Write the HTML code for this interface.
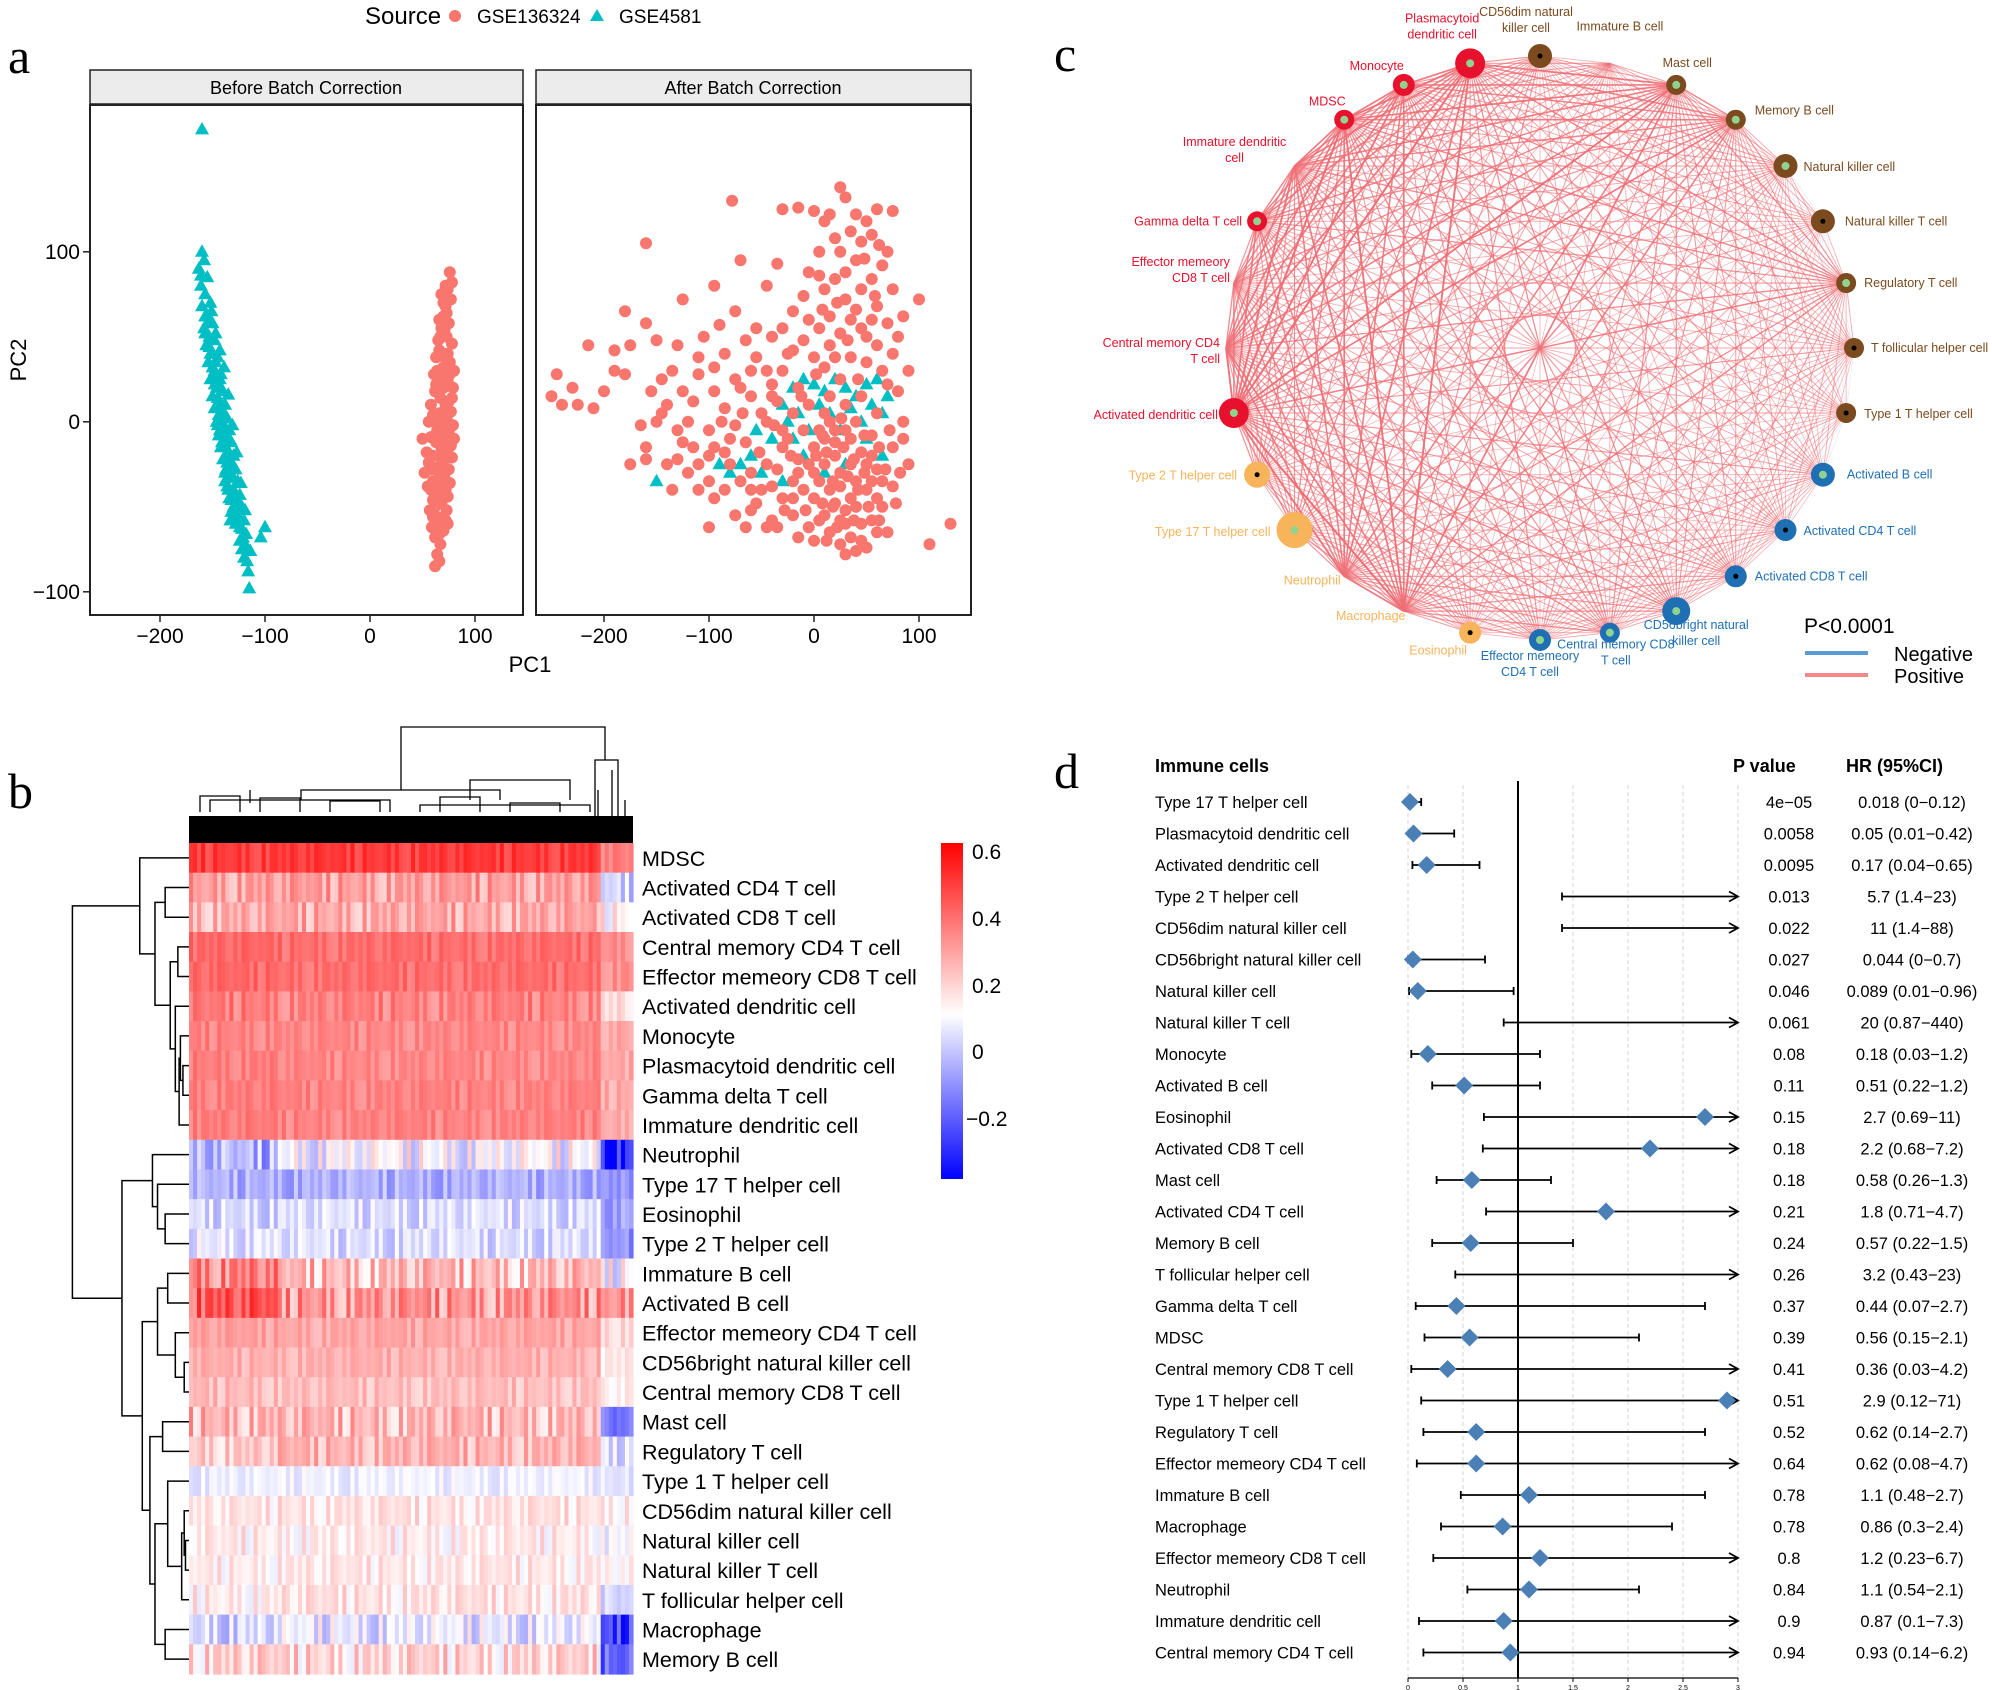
<!DOCTYPE html>
<html><head><meta charset="utf-8"><style>
html,body{margin:0;padding:0;background:#fff}
svg{display:block;font-family:"Liberation Sans",Arial,sans-serif}
.nar{font-family:"Liberation Sans Narrow","Liberation Sans",sans-serif}
.pl{font-family:"Liberation Serif",serif;font-size:50px}
</style></head><body>
<svg id="fig" width="1992" height="1690" viewBox="0 0 1992 1690" xmlns="http://www.w3.org/2000/svg">
<rect width="1992" height="1690" fill="#fff"/>
<text class="pl" x="8" y="73">a</text>
<text class="pl" x="8" y="808">b</text>
<text class="pl" x="1054" y="71">c</text>
<text class="pl" x="1054" y="788">d</text>

<g id="pa">
 <g class="nar" font-size="22">
  <text x="365" y="24" font-size="24">Source</text>
  <circle cx="455" cy="16" r="6" fill="#F8766D"/>
  <text x="477" y="23" font-size="19">GSE136324</text>
  <polygon points="597,9 604,21 590,21" fill="#00BFC4"/>
  <text x="619" y="23" font-size="19">GSE4581</text>
 </g>
 <rect x="90" y="70" width="433" height="34" fill="#ececec" stroke="#222" stroke-width="1.5"/>
 <text x="306" y="94" text-anchor="middle" font-size="18" class="nar">Before Batch Correction</text>
 <rect x="536" y="70" width="435" height="34" fill="#ececec" stroke="#222" stroke-width="1.5"/>
 <text x="753" y="94" text-anchor="middle" font-size="18" class="nar">After Batch Correction</text>
 <g id="scatL"></g>
 <g id="scatR"></g>
 <rect x="90" y="105" width="433" height="510" fill="none" stroke="#222" stroke-width="2"/>
 <rect x="536" y="105" width="435" height="510" fill="none" stroke="#222" stroke-width="2"/>
 <g id="axA" class="nar" font-size="21"></g>
 <text x="530" y="672" text-anchor="middle" font-size="22">PC1</text>
 <text transform="translate(26,360) rotate(-90)" text-anchor="middle" font-size="22">PC2</text>
</g>

<g id="pb">
 <g id="hm"></g>
 <g id="rden" stroke="#000" stroke-width="1.5" fill="none"></g>
 <g id="cden" stroke="#000" stroke-width="1.3" fill="none"></g>
 <g id="hml" font-size="21.5"></g>
 <defs><linearGradient id="cb" x1="0" y1="0" x2="0" y2="1">
  <stop offset="0" stop-color="#ff0000"/><stop offset="0.51" stop-color="#ffffff"/><stop offset="1" stop-color="#0000ff"/></linearGradient></defs>
 <rect x="941" y="843" width="22" height="336" fill="url(#cb)"/>
 <g font-size="21">
  <text x="972" y="859">0.6</text><text x="972" y="926">0.4</text><text x="972" y="993">0.2</text><text x="972" y="1059">0</text><text x="966" y="1126">−0.2</text>
 </g>
</g>

<g id="pc">
 <g id="edges"></g>
 <g id="nodes"></g>
 <g id="nlab" font-size="12.5"></g>
 <g>
  <text x="1804" y="633" font-size="21">P&lt;0.0001</text>
  <line x1="1805" y1="653" x2="1868" y2="653" stroke="#5b9bd5" stroke-width="4"/>
  <text x="1894" y="661" font-size="20">Negative</text>
  <line x1="1805" y1="675" x2="1868" y2="675" stroke="#f4878a" stroke-width="4"/>
  <text x="1894" y="683" font-size="20">Positive</text>
 </g>
</g>

<g id="pd">
 <text x="1155" y="772" font-size="18" font-weight="bold">Immune cells</text>
 <text x="1733" y="772" font-size="18" font-weight="bold">P value</text>
 <text x="1846" y="772" font-size="18" font-weight="bold">HR (95%CI)</text>
 <g id="fgrid"></g>
 <g id="frows"></g>
</g>
</svg>
<script>
const NS="http://www.w3.org/2000/svg";
function mk(t,a,p){const e=document.createElementNS(NS,t);for(const k in a)e.setAttribute(k,a[k]);p.appendChild(e);return e;}

/* ---------- Panel a data ---------- */
const beforeGSE4581=[[-160,100],[-158,95],[-163,90],[-155,85],[-161,80],[-157,75],[-152,70],[-160,68],[-155,62],[-150,58],[-158,55],[-153,50],[-148,48],[-156,45],[-150,40],[-145,38],[-154,35],[-148,30],[-142,28],[-152,25],[-146,20],[-140,18],[-150,15],[-144,12],[-138,10],[-148,8],[-142,5],[-136,2],[-146,0],[-140,-3],[-134,-5],[-144,-8],[-138,-10],[-132,-12],[-142,-15],[-136,-18],[-130,-20],[-140,-22],[-134,-25],[-128,-28],[-138,-30],[-132,-33],[-126,-35],[-136,-38],[-130,-40],[-124,-43],[-134,-45],[-128,-48],[-122,-50],[-132,-53],[-126,-55],[-120,-58],[-128,-60],[-122,-63],[-118,-66],[-124,-70],[-118,-73],[-114,-76],[-120,-80],[-116,-88],[-115,-98],[-100,-62],[-104,-68],[-160,172],[-142,20],[-145,-2],[-137,-28],[-130,-50],[-151,65],[-147,52],[-143,42],[-139,32],[-135,16],[-131,-2],[-127,-18],[-123,-36],[-119,-52],[-150,32],[-146,10],[-141,-12],[-135,-40],
[-157,62],[-153,44],[-149,26],[-145,14],[-141,0],[-137,-15],[-133,-30],[-129,-42],[-125,-58],[-121,-68],[-152,40],[-148,22],[-144,4],[-140,-8],[-136,-24],[-132,-46],[-128,-54],[-124,-62],[-143,25],[-139,5],[-135,-10],[-131,-25],[-127,-45],[-157,52],[-161,86],[-154,58],[-147,35],[-143,-5],[-138,-35],[-133,-58],[-117,-82],[-122,-75]];
const beforeGSE136324=[[76,88],[78,82],[74,78],[77,72],[72,68],[70,62],[75,58],[68,55],[73,50],[78,46],[66,42],[71,38],[76,35],[64,30],[69,27],[74,24],[79,20],[62,18],[67,14],[72,10],[77,6],[60,4],[65,0],[70,-3],[75,-6],[58,-9],[63,-12],[68,-15],[73,-18],[78,-21],[56,-24],[61,-27],[66,-30],[71,-33],[76,-36],[58,-40],[63,-44],[68,-48],[73,-52],[60,-56],[65,-60],[70,-64],[62,-68],[67,-72],[64,-78],[62,-85],[50,-10],[52,-30],[80,30],[80,-10],[70,20],[66,5],[72,-40],[68,-25],[74,40],[65,48],[70,70],[62,-50],[60,-20],[58,10],[75,12],[64,-5],[70,32],[66,60],[72,-58],[60,-35],
[56,0],[54,-18],[55,-38],[57,-52],[59,-62],[61,28],[63,38],[67,50],[71,54],[73,64],[76,28],[78,14],[79,-2],[77,-14],[75,-28],[74,-44],[70,-56],[66,-66],[64,-56],[60,-46],[58,-28],[62,-8],[66,18],[70,40],[73,2],[69,-10],[65,-20],[63,22],[67,-38],[71,-22],[74,-60],[69,-44],[72,80],[68,75],[66,-82]];
const afterGSE4581=[[-20,20],[-10,25],[0,22],[10,18],[20,25],[30,20],[40,15],[50,22],[60,25],[-30,10],[-25,0],[-15,5],[-5,-5],[5,10],[15,5],[25,-5],[35,8],[45,0],[55,10],[65,5],[-40,-10],[-60,-20],[-70,-25],[-80,-30],[-50,-30],[-30,-35],[-10,-20],[10,-30],[30,-25],[50,-10],[65,-20],[-150,-35],[-90,-25],[-55,-5],[-20,-10],[70,15]];
const afterGSE136324=[[25,138],[30,132],[-78,130],[-30,125],[-15,126],[0,124],[15,122],[40,122],[60,125],[75,124],[10,118],[50,118],[35,112],[55,110],[45,106],[62,104],[70,100],[25,100],[-160,105],[-70,95],[-35,93],[40,95],[65,92],[-5,88],[5,86],[20,84],[55,84],[10,78],[45,78],[75,78],[-125,72],[30,72],[60,68],[100,72],[-180,65],[-75,65],[-20,65],[-5,60],[15,62],[35,60],[55,60],[70,58],[-160,58],[-90,57],[-55,55],[-30,55],[5,55],[25,52],[45,55],[-150,48],[-105,50],[-65,48],[-40,50],[-10,48],[15,45],[60,45],[-215,45],[-190,42],[-175,45],[-85,40],[-55,38],[-25,40],[0,38],[35,38],[75,40],[-190,30],[-135,30],[-95,32],[-60,30],[-30,30],[10,32],[50,35],[90,30],[-245,28],[-180,28],[-145,25],[-110,28],[-75,25],[-40,22],[-15,20],[25,25],[70,22],[-250,15],[-230,20],[-200,18],[-155,18],[-125,18],[-95,18],[-60,15],[-35,12],[-5,10],[45,15],[80,18],[-240,10],[-225,10],[-210,8],[-140,10],[-115,12],[-85,8],[-50,5],[-20,5],[15,0],[60,5],[-165,-2],[-150,0],[-130,-5],[-100,-5],[-75,-2],[-45,0],[-10,-5],[30,-5],[55,-8],[85,0],[-160,-15],[-125,-12],[-95,-15],[-65,-12],[-30,-15],[0,-15],[20,-12],[45,-18],[75,-15],[-140,-25],[-110,-25],[-80,-25],[-45,-25],[-15,-22],[10,-25],[35,-25],[60,-28],[90,-25],[-175,-25],[-160,-22],[-100,-35],[-70,-35],[-40,-38],[-20,-35],[5,-35],[25,-38],[50,-40],[75,-38],[-95,-45],[-55,-48],[-30,-45],[0,-45],[20,-48],[40,-50],[65,-50],[-75,-55],[-40,-58],[-20,-55],[10,-55],[30,-60],[55,-58],[-100,-62],[-65,-62],[-45,-62],[15,-65],[35,-68],[60,-65],[0,-70],[25,-72],[50,-74],[110,-72],[130,-60],[-5,-62],[5,-5],[15,15],[-25,-10],[40,0],[20,-20],[30,10],[10,-10],[25,-30],[40,-35],[15,-40],[35,-45],[50,-25],[0,-30],[-10,-40],[20,-5],[45,-60],[30,-52],[5,-58],[60,-45],[-35,-28],[-60,-40],[-20,-45],[65,-35],[55,-20],[35,-10],[10,5],[-15,-30],[25,-58],[45,-70],[8,-48],[38,-22],[18,-35],
[20,108],[48,96],[30,88],[58,74],[40,66],[22,70],[-10,74],[8,66],[50,50],[32,48],[-20,42],[-45,30],[-70,20],[65,30],[42,25],[-52,-18],[-85,-18],[-115,-15],[-30,-5],[-5,-25],[12,-18],[28,-15],[48,-30],[68,-28],[72,-5],[62,-15],[52,-50],[38,-58],[22,-62],[-8,-52],[-28,-52],[-50,-40],[-60,-52],[-85,-40],[-110,-40],[-130,-22],[-145,5],[-120,0],[-88,0],[-68,5],[-38,-2],[-12,15],[2,28],[20,38],[-35,-62],[12,-70],[40,-76],[62,-58],[78,-48],[82,-30],[85,-10],[70,-65],[30,-78],[-15,-68],[42,-40],[18,-50],[2,-20],[-22,-20],[32,-32],[55,-35],[8,-8],[48,-8],[26,2],[-40,15],[-60,-30],[-80,-10],[-100,-20],[-120,-30],[-135,-40],[80,50],[85,62],[5,100],[-45,80],[-95,80],[-110,38],[-130,45]];
const xTicks=[-200,-100,0,100];
const yTicks=[100,0,-100];
const yS=v=>421.8-v*1.70;
const xL=v=>370+v*1.05, xR=v=>814+v*1.05;

function tri(g,x,y,c){const p=mk('polygon',{points:`${x},${y-7.5} ${x+7},${y+5} ${x-7},${y+5}`,fill:c},g);}
function dot(g,x,y,c){const p=mk('circle',{cx:x,cy:y,r:6,fill:c},g);}
const gL=document.getElementById('scatL'),gR=document.getElementById('scatR');
beforeGSE4581.forEach(d=>tri(gL,xL(d[0]),yS(d[1]),'#00BFC4'));
beforeGSE136324.forEach(d=>dot(gL,xL(d[0]),yS(d[1]),'#F8766D'));
afterGSE4581.forEach(d=>tri(gR,xR(d[0]),yS(d[1]),'#00BFC4'));
afterGSE136324.forEach(d=>dot(gR,xR(d[0]),yS(d[1]),'#F8766D'));
const ax=document.getElementById('axA');
[xL,xR].forEach((f,pi)=>xTicks.forEach(t=>{
 mk('line',{x1:f(t),x2:f(t),y1:615,y2:622,stroke:'#222','stroke-width':1.5},ax);
 const tx=mk('text',{x:f(t),y:643,'text-anchor':'middle'},ax);tx.textContent=t<0?'−'+(-t):t;
 
}));
yTicks.forEach(t=>{
 mk('line',{x1:83,x2:90,y1:yS(t),y2:yS(t),stroke:'#222','stroke-width':1.5},ax);
 const tx=mk('text',{x:80,y:yS(t)+7,'text-anchor':'end'},ax);tx.textContent=t<0?'−'+(-t):t;
 
});

/* ---------- Panel b data ---------- */
const rowNames=["MDSC","Activated CD4 T cell","Activated CD8 T cell","Central memory CD4 T cell","Effector memeory CD8 T cell","Activated dendritic cell","Monocyte","Plasmacytoid dendritic cell","Gamma delta T cell","Immature dendritic cell","Neutrophil","Type 17 T helper cell","Eosinophil","Type 2 T helper cell","Immature  B cell","Activated B cell","Effector memeory CD4 T cell","CD56bright natural killer cell","Central memory CD8 T cell","Mast cell","Regulatory T cell","Type 1 T helper cell","CD56dim natural killer cell","Natural killer cell","Natural killer T cell","T follicular helper cell","Macrophage","Memory B cell"];
const rowLeft=[0.50,0.30,0.27,0.41,0.41,0.37,0.36,0.37,0.37,0.37,-0.04,-0.04,0.04,0.07,0.36,0.44,0.30,0.27,0.25,0.26,0.22,0.08,0.16,0.15,0.15,0.15,0.04,0.20];
const rowBase=[0.50,0.30,0.28,0.40,0.40,0.36,0.35,0.35,0.36,0.36,0.10,-0.04,0.05,0.05,0.24,0.32,0.29,0.27,0.24,0.25,0.26,0.09,0.17,0.15,0.16,0.17,0.07,0.19];
const rowTail=[0.36,0.02,0.14,0.34,0.34,0.18,0.28,0.28,0.28,0.28,-0.30,-0.10,-0.08,-0.10,0.10,0.32,0.20,0.16,0.14,-0.18,0.05,0.06,0.16,0.10,0.13,0.02,-0.26,-0.20];
const rowAmp=[0.06,0.10,0.10,0.05,0.05,0.07,0.05,0.05,0.05,0.05,0.14,0.08,0.09,0.09,0.14,0.14,0.05,0.05,0.06,0.12,0.09,0.05,0.07,0.08,0.07,0.08,0.12,0.12];
const texture=[0.3,-0.8,0.5,0.1,-0.4,0.9,-0.2,0.6,-0.9,0.2,0.7,-0.5,0.0,0.4,-0.7,0.8,-0.1,-0.6,0.5,0.2,-0.3,1.0,-0.8,0.3,0.6,-0.4,-0.1,0.7,-0.9,0.4,0.1,-0.5,0.8,-0.2,0.3,-0.7,0.5];
const NC=110;
const HX0=189,HX1=633,HY0=843,HY1=1674;
function col(v){
 let r,g,b;
 if(v>=0.12){const t=Math.min(1,(v-0.12)/0.5);r=255;g=b=Math.round(255*(1-t));}
 else{const t=Math.min(1,(0.12-v)/0.5);b=255;r=g=Math.round(255*(1-t));}
 return `rgb(${r},${g},${b})`;}
const hm=document.getElementById('hm');
const rh=(HY1-HY0)/rowNames.length,cw=(HX1-HX0)/NC;
rowNames.forEach((n,r)=>{
 for(let c=0;c<NC;c++){
  const f=c/NC;const base=f<0.2?rowLeft[r]:(f>=0.92?rowTail[r]:rowBase[r]);
  const v=base+rowAmp[r]*texture[(c*7+r*5)%texture.length];
  const e=mk('rect',{x:(HX0+c*cw).toFixed(2),y:(HY0+r*rh).toFixed(2),width:(cw+0.6).toFixed(2),height:(rh+0.6).toFixed(2),fill:col(v)},hm);
  
  
 }
 const t=mk('text',{x:642,y:HY0+(r+0.5)*rh+8},document.getElementById('hml'));t.textContent=n;
 
});
const merges=[[1,2,130],[3,4,140],[7,8,144],[6,'n2',142],['n3',9,141],[5,'n4',138],['n1','n5',134],['n0','n6',122],[0,'n7',110],
[12,13,130],[11,'n9',124],[10,'n10',120],[14,15,132],[17,18,145],[16,'n13',138],['n12','n14',124],[19,20,128],[23,24,146],[22,'n17',145],['n18',25,143],[21,'n19',132],[26,27,130],['n20','n21',122],['n16','n22',118],['n15','n23',112],['n11','n24',96],['n8','n25',57]];
const rd=document.getElementById('rden');const pos={};
function np(k){if(typeof k==='number')return{x:HX0,y:HY0+(k+0.5)*rh};return pos[k];}
merges.forEach((m,i)=>{const a=np(m[0]),b=np(m[1]);const x=m[2]*1.2704;
 mk('path',{d:`M${a.x},${a.y}H${x}V${b.y}H${b.x}`},rd);pos['n'+i]={x:x,y:(a.y+b.y)/2};});
const cd=document.getElementById('cden');
mk('rect',{x:HX0,y:816,width:HX1-HX0,height:27,fill:'#000',stroke:'none'},cd);
mk('path',{d:'M401,790V727H605V760M301,800V790H500V800M605,760H595V830M605,760H618V830M210,812V800H390V812M420,812V805H590V812M250,803V790M470,800V780H570V800'},cd);
mk('path',{d:'M200,812V796H240V812M260,812V798H300V812M330,812V801H380V812M440,812V797H480V812M510,812V803H560V812M598,830V790M612,830V770M625,843V800',stroke:'#000'},cd);

/* ---------- Panel c data ---------- */
const nodeNames=["CD56dim natural|killer cell","Immature  B cell","Mast cell","Memory B cell","Natural killer cell","Natural killer T cell","Regulatory T cell","T follicular helper cell","Type 1 T helper cell","Activated B cell","Activated CD4 T cell","Activated CD8 T cell","CD56bright natural|killer cell","Central memory CD8|T cell","Effector memeory|CD4 T cell","Eosinophil","Macrophage","Neutrophil","Type 17 T helper cell","Type 2 T helper cell","Activated dendritic cell","Central memory CD4|T cell","Effector memeory|CD8 T cell","Gamma delta T cell","Immature dendritic|cell","MDSC","Monocyte","Plasmacytoid|dendritic cell"];
const nodeGroup=["b","b","b","b","b","b","b","b","b","u","u","u","u","u","u","o","o","o","o","o","r","r","r","r","r","r","r","r"];
const nodeSize=[12,0,10,10,12,12,10,10,10,12,11,11,14,10,11,11,0,0,18,13,15,0,0,10,0,10,11,15];
const nodeDot=["k","","g","g","g","k","g","k","k","g","k","k","g","g","g","k","","","g","k","g","","","g","","g","g","g"];
const nodeStrength=[0.5,0.45,0.7,0.65,0.45,0.4,0.6,0.45,0.4,0.45,0.45,0.5,0.55,0.55,0.5,0.45,0.75,0.7,0.55,0.5,0.8,0.7,0.6,0.65,0.7,0.75,0.7,0.75];
const gc={b:'#7b4a1e',u:'#1f6fb5',o:'#f7b45a',r:'#e8112d'};
const CX=1540,CY=348,RX=314,RY=292;
const np2=i=>{const a=(-90+i*360/nodeNames.length)*Math.PI/180;return[CX+RX*Math.cos(a),CY+RY*Math.sin(a)];};
const eg=document.getElementById('edges');
for(let i=0;i<nodeNames.length;i++)for(let j=i+1;j<nodeNames.length;j++){
 const a=np2(i),b=np2(j),s=nodeStrength[i]*nodeStrength[j];
 const e=mk('line',{x1:a[0],y1:a[1],x2:b[0],y2:b[1],stroke:s<0.2?'#c5d5e8':'#ef6f76','stroke-width':(0.6+4*s*s).toFixed(2),'stroke-opacity':Math.min(1,0.25+1.3*s).toFixed(2)},eg);
 
 
}
const ng=document.getElementById('nodes'),nl=document.getElementById('nlab');
const labLay=[[-14,-36,'middle'],[10,-37,'middle'],[11,-22,'middle'],[19,-9,'start'],[18,1,'start'],[22,0,'start'],[18,0,'start'],[17,0,'start'],[18,1,'start'],[24,0,'start'],[18,1,'start'],[19,0,'start'],[20,22,'middle'],[6,20,'middle'],[-10,24,'middle'],[-32,18,'middle'],[-33,5,'middle'],[-32,4,'middle'],[-24,2,'end'],[-20,1,'end'],[-16,2,'end'],[-6,3,'end'],[-4,-13,'end'],[-15,0,'end'],[-60,-16,'middle'],[-17,-18,'middle'],[-27,-19,'middle'],[-28,-37,'middle']];
nodeNames.forEach((n,i)=>{
 const p=np2(i);
 if(nodeSize[i]>0){
  const c=mk('circle',{cx:p[0],cy:p[1],r:nodeSize[i],fill:gc[nodeGroup[i]]},ng);
  
  
  mk('circle',{cx:p[0],cy:p[1],r:nodeDot[i]==='g'?4:2.5,fill:nodeDot[i]==='g'?'#8fd38f':'#000'},ng);
 }
 const L=labLay[i];const parts=n.split('|');
 parts.forEach((s,k)=>{const t=mk('text',{x:p[0]+L[0],y:p[1]+L[1]+k*16+(parts.length>1?-4:4),'text-anchor':L[2],fill:gc[nodeGroup[i]]},nl);t.textContent=s;
  });
});

/* ---------- Panel d data ---------- */
const cells=["Type 17 T helper cell","Plasmacytoid dendritic cell","Activated dendritic cell","Type 2 T helper cell","CD56dim natural killer cell","CD56bright natural killer cell","Natural killer cell","Natural killer T cell","Monocyte","Activated B cell","Eosinophil","Activated CD8 T cell","Mast cell","Activated CD4 T cell","Memory B cell","T follicular helper cell","Gamma delta T cell","MDSC","Central memory CD8 T cell","Type 1 T helper cell","Regulatory T cell","Effector memeory CD4 T cell","Immature  B cell","Macrophage","Effector memeory CD8 T cell","Neutrophil","Immature dendritic cell","Central memory CD4 T cell"];
const pvals=["4e−05","0.0058","0.0095","0.013","0.022","0.027","0.046","0.061","0.08","0.11","0.15","0.18","0.18","0.21","0.24","0.26","0.37","0.39","0.41","0.51","0.52","0.64","0.78","0.78","0.8","0.84","0.9","0.94"];
const hr=[0.018,0.05,0.17,5.7,11,0.044,0.089,20,0.18,0.51,2.7,2.2,0.58,1.8,0.57,3.2,0.44,0.56,0.36,2.9,0.62,0.62,1.1,0.86,1.2,1.1,0.87,0.93];
const lo=[0,0.01,0.04,1.4,1.4,0,0.01,0.87,0.03,0.22,0.69,0.68,0.26,0.71,0.22,0.43,0.07,0.15,0.03,0.12,0.14,0.08,0.48,0.3,0.23,0.54,0.1,0.14];
const hi=[0.12,0.42,0.65,23,88,0.7,0.96,440,1.2,1.2,11,7.2,1.3,4.7,1.5,23,2.7,2.1,4.2,71,2.7,4.7,2.7,2.4,6.7,2.1,7.3,6.2];
const hrTicks=[0,0.5,1,1.5,2,2.5,3];
const fx=v=>1408+v*110;
const fy=i=>802+i*31.5;
const fg=document.getElementById('fgrid'),fr=document.getElementById('frows');
hrTicks.forEach(t=>{
 if(t!==1)mk('line',{x1:fx(t),x2:fx(t),y1:785,y2:1678,stroke:'#d5d5d5','stroke-dasharray':'4,3'},fg);
 mk('line',{x1:fx(t),x2:fx(t),y1:1678,y2:1682,stroke:'#000'},fg);
 const tx=mk('text',{x:fx(t),y:1690,'font-size':7,'text-anchor':'middle'},fg);tx.textContent=t;
 
});
mk('line',{x1:fx(0),x2:fx(3),y1:1678,y2:1678,stroke:'#000','stroke-width':1.2},fg);
mk('line',{x1:fx(1),x2:fx(1),y1:781,y2:1678,stroke:'#000','stroke-width':2},fg);
cells.forEach((c,i)=>{
 const y=fy(i);
 let t=mk('text',{x:1155,y:y+6,'font-size':16.5},fr);t.textContent=c;
 t=mk('text',{x:1789,y:y+6,'font-size':16.5,'text-anchor':'middle'},fr);t.textContent=pvals[i];
 t=mk('text',{x:1912,y:y+6,'font-size':16.5,'text-anchor':'middle'},fr);
 t.textContent=`${hr[i]} (${lo[i]}−${hi[i]})`;
 const x1=fx(Math.min(lo[i],3)),x2=fx(Math.min(hi[i],3));
 const ln=mk('line',{x1:x1,x2:x2,y1:y,y2:y,stroke:'#000','stroke-width':1.8},fr);
 
 
 mk('line',{x1:x1,x2:x1,y1:y-4,y2:y+4,stroke:'#000','stroke-width':1.8},fr);
 if(hi[i]>3)mk('path',{d:`M${x2-9},${y-5}L${x2},${y}L${x2-9},${y+5}`,stroke:'#000','stroke-width':1.8,fill:'none'},fr);
 else mk('line',{x1:x2,x2:x2,y1:y-4,y2:y+4,stroke:'#000','stroke-width':1.8},fr);
 if(hr[i]<=3){const d=fx(hr[i]);const dm=mk('polygon',{points:`${d-9},${y} ${d},${y-9} ${d+9},${y} ${d},${y+9}`,fill:'#4a80b6'},fr);
  
  }
});
</script>
</body></html>
